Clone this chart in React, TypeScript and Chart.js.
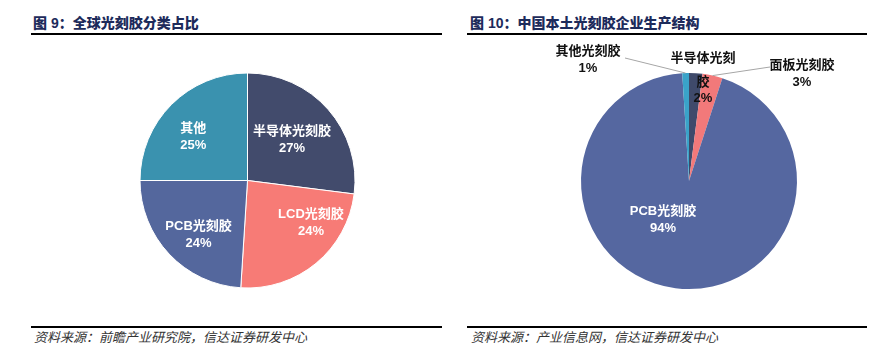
import React, { useEffect, useRef } from "react";
import { Chart, registerables } from "chart.js";

Chart.register(...registerables);

// ---- data ----
const leftTitle = "图 9：全球光刻胶分类占比";
const rightTitle = "图 10：中国本土光刻胶企业生产结构";
const leftSource = "资料来源：前瞻产业研究院，信达证券研发中心";
const rightSource = "资料来源：产业信息网，信达证券研发中心";

const leftCategories = ["半导体光刻胶", "LCD光刻胶", "PCB光刻胶", "其他"];
const leftValues = [27, 24, 24, 25];
const leftColors = ["#424B6C", "#F77B76", "#54679D", "#3A92AF"];

const rightCategories = ["半导体光刻胶", "面板光刻胶", "PCB光刻胶", "其他光刻胶"];
const rightValues = [2, 3, 94, 1];
const rightColors = ["#3F4A6B", "#F2797A", "#5567A0", "#3AA3C9"];

// ---- label layout ----
type LabelItem = {
  mode: "inside" | "outside";
  angle?: number;
  frac?: number;
  dx?: number;
  dy?: number;
  color: string;
  maxWidth?: number;
  gaps?: number[];
  leader?: { dx: number; dy: number };
};

const leftLabels: LabelItem[] = [
  { mode: "inside", angle: 47.7, frac: 0.56, color: "#FFFFFF" },
  { mode: "inside", angle: 123.8, frac: 0.71, color: "#FFFFFF" },
  { mode: "inside", angle: 222, frac: 0.68, color: "#FFFFFF" },
  { mode: "inside", angle: 309, frac: 0.65, color: "#FFFFFF" },
];

const rightLabels: LabelItem[] = [
  { mode: "outside", dx: 14, dy: -123, color: "#111111", maxWidth: 70, gaps: [24, 16] },
  { mode: "outside", dx: 113, dy: -116, color: "#111111", leader: { dx: 81, dy: -114 } },
  { mode: "inside", angle: 214, frac: 0.43, color: "#FFFFFF" },
  { mode: "outside", dx: -101, dy: -130, color: "#111111", leader: { dx: -64, dy: -123 } },
];

const LABEL_FONT = 'bold 13px "Liberation Sans", "Noto Sans CJK SC", sans-serif';

function wrapText(ctx: CanvasRenderingContext2D, text: string, maxWidth?: number): string[] {
  if (!maxWidth) return [text];
  const lines: string[] = [];
  let cur = "";
  for (const ch of Array.from(text)) {
    const test = cur + ch;
    if (cur && ctx.measureText(test).width > maxWidth) {
      lines.push(cur);
      cur = ch;
    } else cur = test;
  }
  if (cur) lines.push(cur);
  return lines;
}

function makeLabelPlugin(items: LabelItem[]) {
  return {
    id: "sliceLabels",
    afterDatasetsDraw(chart: any) {
      const meta = chart.getDatasetMeta(0);
      const ctx: CanvasRenderingContext2D = chart.ctx;
      const cats = chart.data.labels as string[];
      const vals = chart.data.datasets[0].data as number[];
      ctx.save();
      ctx.font = LABEL_FONT;
      ctx.textAlign = "center";
      ctx.textBaseline = "middle";
      items.forEach((item, i) => {
        const arc = meta.data[i];
        const { x, y, outerRadius, startAngle, endAngle } = arc.getProps(
          ["x", "y", "outerRadius", "startAngle", "endAngle"],
          true
        );
        let cx: number, cy: number;
        if (item.mode === "inside") {
          const th = ((item.angle as number) * Math.PI) / 180;
          cx = x + Math.sin(th) * (item.frac as number) * outerRadius;
          cy = y - Math.cos(th) * (item.frac as number) * outerRadius;
        } else {
          cx = x + (item.dx as number);
          cy = y + (item.dy as number);
        }
        if (item.leader) {
          const mid = (startAngle + endAngle) / 2;
          ctx.beginPath();
          ctx.strokeStyle = "#A6A6A6";
          ctx.lineWidth = 1;
          ctx.moveTo(x + item.leader.dx, y + item.leader.dy);
          ctx.lineTo(x + Math.cos(mid) * outerRadius, y + Math.sin(mid) * outerRadius);
          ctx.stroke();
        }
        const lines = wrapText(ctx, cats[i], item.maxWidth);
        lines.push(vals[i] + "%");
        ctx.fillStyle = item.color;
        let ly: number;
        if (item.mode === "inside") {
          ly = cy - ((lines.length - 1) * 17) / 2;
        } else {
          ly = cy;
        }
        lines.forEach((ln, k) => {
          ctx.fillText(ln, cx, ly);
          const g = item.gaps ? item.gaps[k] ?? 17 : 17;
          ly += g;
        });
      });
      ctx.restore();
    },
  };
}

function PieChart(props: {
  labels: string[];
  values: number[];
  colors: string[];
  items: LabelItem[];
  borderWidth: number;
  padding: { left: number; right: number; top: number; bottom: number };
  style: React.CSSProperties;
}) {
  const ref = useRef<HTMLCanvasElement | null>(null);
  useEffect(() => {
    if (!ref.current) return;
    const chart = new Chart(ref.current, {
      type: "pie",
      data: {
        labels: props.labels,
        datasets: [
          {
            data: props.values,
            backgroundColor: props.colors,
            borderColor: "#FFFFFF",
            borderWidth: props.borderWidth,
          },
        ],
      },
      options: {
        animation: false,
        responsive: false,
        maintainAspectRatio: false,
        layout: { padding: props.padding },
        plugins: {
          legend: { display: false },
          tooltip: { enabled: false },
          title: { display: false },
        },
      },
      plugins: [makeLabelPlugin(props.items) as any],
    });
    return () => chart.destroy();
  }, []);
  const w = props.style.width as number;
  const h = props.style.height as number;
  return <canvas ref={ref} width={w} height={h} style={props.style} />;
}

const titleStyle: React.CSSProperties = {
  position: "absolute",
  top: 13,
  height: 20,
  lineHeight: "20px",
  fontFamily: '"Liberation Sans", "Noto Sans CJK SC", sans-serif',
  fontWeight: 900,
  fontSize: 14,
  color: "#1D2B5B",
  whiteSpace: "nowrap",
};

const sourceStyle: React.CSSProperties = {
  position: "absolute",
  top: 328,
  height: 18,
  lineHeight: "18px",
  fontFamily: '"Noto Sans CJK SC", sans-serif',
  fontStyle: "italic",
  fontSize: 13,
  color: "#333333",
  whiteSpace: "nowrap",
};

const rule = (left: number, top: number, width: number): React.CSSProperties => ({
  position: "absolute",
  left,
  top,
  width,
  height: 2,
  background: "#000000",
});

export default function App() {
  return (
    <div
      style={{
        position: "absolute",
        left: 0,
        top: 0,
        width: 895,
        height: 355,
        background: "#FFFFFF",
        overflow: "hidden",
      }}
    >
      <div style={{ ...titleStyle, left: 33 }}>{leftTitle}</div>
      <div style={{ ...titleStyle, left: 470 }}>{rightTitle}</div>
      <div style={rule(31, 33, 411)} />
      <div style={rule(467, 33, 400)} />
      <div style={rule(31, 326, 411)} />
      <div style={rule(467, 326, 400)} />
      <div style={{ ...sourceStyle, left: 34 }}>{leftSource}</div>
      <div style={{ ...sourceStyle, left: 471 }}>{rightSource}</div>

      <PieChart
        labels={leftCategories}
        values={leftValues}
        colors={leftColors}
        items={leftLabels}
        borderWidth={1}
        padding={{ left: 139.5, right: 91.5, top: 32.5, bottom: 31.5 }}
        style={{ position: "absolute", left: 0, top: 40, width: 447, height: 280 }}
      />
      <PieChart
        labels={rightCategories}
        values={rightValues}
        colors={rightColors}
        items={rightLabels}
        borderWidth={0}
        padding={{ left: 134, right: 98, top: 33, bottom: 31 }}
        style={{ position: "absolute", left: 447, top: 40, width: 448, height: 280 }}
      />
    </div>
  );
}
